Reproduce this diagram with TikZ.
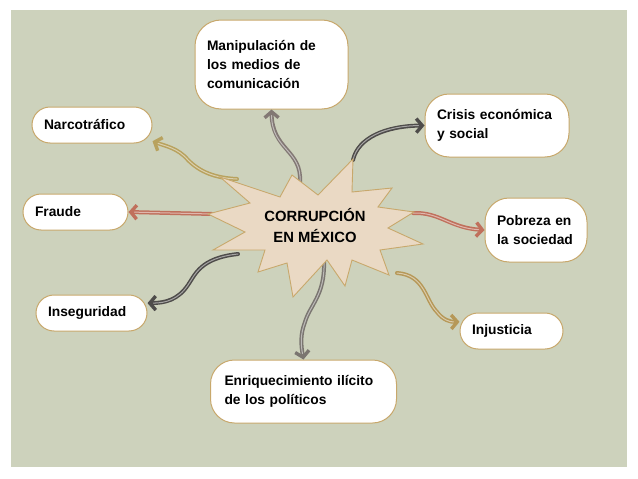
\documentclass[tikz,border=0pt]{standalone}
\usepackage{fontspec}
\setmainfont{Liberation Sans}
\usetikzlibrary{arrows.meta}

\definecolor{panel}{RGB}{205,210,188}
\definecolor{borde}{RGB}{200,168,108}
\definecolor{estrella}{RGB}{234,217,196}
\definecolor{grismalva}{RGB}{130,120,116}
\definecolor{caqui}{RGB}{184,162,94}
\definecolor{salmon}{RGB}{192,112,92}
\definecolor{grisoscuro}{RGB}{78,76,74}
\definecolor{canela}{RGB}{182,152,88}
\definecolor{grismedio}{RGB}{122,117,112}

\tikzset{
  caja/.style={draw=borde, line width=1pt, fill=white, rounded corners=#1,
    inner xsep=12pt, inner ysep=0pt, align=left,
    font=\bfseries\fontsize{13.8}{19}\selectfont},
  flecha/.style={draw=#1, line width=4pt, line cap=round,
    -{Straight Barb[length=6pt,width=14pt,line width=3.4pt]},
    postaction={draw=#1!50!white, line width=1pt, -, shorten >=6pt}},
  centro/.style={align=center, font=\bfseries\fontsize{14.8}{21}\selectfont}
}

\begin{document}
\begin{tikzpicture}[x=1pt,y=-1pt]
    % Fondo
    \useasboundingbox (0,0) rectangle (638,479);
    \fill[panel] (11,10) rectangle (627,467);

    % Cajas
    \node[caja=26pt, text width=129pt, minimum height=89pt] (manip) at (271.5,64.5)
      {Manipulación de\\los medios de\\comunicación};
    \node[caja=18pt, text width=96pt, minimum height=36pt] (narco) at (92,125) {Narcotráfico};
    \node[caja=18pt, text width=81pt, minimum height=36pt] (fraude) at (75.5,212) {Fraude};
    \node[caja=24pt, text width=120pt, minimum height=63pt] (crisis) at (497,125.5)
      {Crisis económica\\y social};
    \node[caja=24pt, text width=78pt, minimum height=64pt] (pobreza) at (536,230)
      {Pobreza en\\la sociedad};
    \node[caja=18pt, text width=79pt, minimum height=36pt] (injus) at (511.5,331) {Injusticia};
    \node[caja=18pt, text width=87pt, minimum height=36pt] (inseg) at (91.5,313) {Inseguridad};
    \node[caja=24pt, text width=158pt, minimum height=63pt, inner xsep=14pt] (enriq) at (303.5,391.5)
      {Enriquecimiento ilícito\\de los políticos};

    % Salidas de las flechas
    \coordinate (mA) at (300,182);
    \coordinate (nA) at (237,179);
    \coordinate (fA) at (212,214);
    \coordinate (cA) at (353,160);
    \coordinate (pA) at (413,213);
    \coordinate (iA) at (397,273);
    \coordinate (eA) at (324,262);
    \coordinate (sA) at (238,254);

    % Flechas
    \draw[flecha=grismalva] (mA) .. controls (302,150) and (272,150) .. (manip.south);
    \draw[flecha=caqui] (nA) .. controls (215,178) and (200,172) .. (188,160)
      .. controls (178,148) and (165,146) .. (narco.-15);
    \draw[flecha=salmon] (fA) -- (fraude.east);
    \draw[flecha=grisoscuro] (cA) .. controls (358,138) and (385,126) .. (crisis.west);
    \draw[flecha=salmon] (pA) .. controls (440,212) and (450,228) .. (pobreza.west);
    \draw[flecha=canela] (iA) .. controls (425,275) and (425,300) .. (437,312)
      .. controls (443,320) and (450,322) .. (injus.170);
    \draw[flecha=grismedio] (eA) .. controls (325,295) and (310,305) .. (305,322)
      .. controls (300,335) and (301,345) .. (enriq.north);
    \draw[flecha=grisoscuro] (sA) .. controls (200,258) and (195,275) .. (188,285)
      .. controls (178,300) and (165,303) .. (inseg.10);

    % Estrella
    \filldraw[fill=estrella, draw=borde, line width=0.9pt]
      (220,177) -- (280,197) -- (292,175) -- (318,195) -- (353,159) -- (352,192)
      -- (392,188) -- (378,207) -- (414,212) -- (388,228) -- (423,244) -- (380,250)
      -- (389,275) -- (352,260) -- (345,286) -- (327,260) -- (293,297) -- (287,263)
      -- (258,272) -- (265,250) -- (213,250) -- (245,232) -- (208,214) -- (250,203)
      -- cycle;
    \node[centro] (corrup) at (315,225.5) {CORRUPCIÓN\\EN MÉXICO};

\end{tikzpicture}
\end{document}
